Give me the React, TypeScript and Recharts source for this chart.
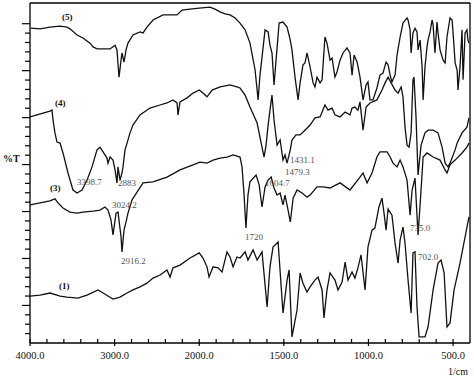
import { LineChart, Line, XAxis, YAxis, ReferenceLine, ReferenceDot } from 'recharts'

// wavenumbers (1/cm) and %T, one pair of arrays per spectrum
const WN5 = [3990, 3880, 3765, 3645, 3563, 3527, 3444, 3374, 3291, 3255, 3208, 3114, 3054, 2995, 2972, 2948, 2924, 2913, 2889, 2865, 2842, 2783, 2700, 2664, 2617, 2546, 2428, 2262, 2203, 2109, 2000,
  1936, 1907, 1877, 1848, 1818, 1788, 1759, 1729, 1700, 1670, 1652, 1641, 1629, 1611, 1593, 1582, 1570, 1558, 1546, 1528, 1505, 1481, 1462, 1452, 1434, 1416, 1404, 1387, 1375, 1363, 1345, 1327, 1316, 1304, 1286, 1274, 1257, 1245, 1227, 1215, 1198, 1186, 1168, 1150, 1127, 1109, 1097, 1085, 1067, 1050, 1032, 1014, 1003, 991, 973, 950, 932, 914, 896, 884, 872, 861, 843, 831, 813, 796, 772, 766, 754, 748, 737, 725, 713, 707, 695, 683, 677, 666, 654, 648, 636, 624, 618, 607, 595, 589, 577, 559, 547, 536, 518, 506, 500, 488, 476, 471, 459, 447, 441, 429, 418, 412, 406]
const T5 = [92.6, 92.4, 92.9, 93.2, 92.9, 92.4, 90.6, 89.7, 88.2, 87.1, 86.5, 86.5, 86.5, 87.6, 86.2, 78.2, 83.2, 85.3, 82.6, 86.2, 88.2, 90.6, 91.5, 91.2, 92.9, 95.0, 96.5, 96.5, 97.9, 98.2, 98.5,
  98.8, 98.2, 97.4, 96.8, 96.5, 95.6, 94.1, 92.1, 88.2, 80.3, 71.5, 78.8, 84.1, 92.1, 91.5, 87.6, 85.3, 75.9, 83.2, 94.1, 94.4, 92.9, 89.1, 86.2, 78.2, 71.5, 76.5, 81.8, 82.4, 85.3, 81.2, 76.5, 75.3, 78.2, 76.5, 77.4, 90.0, 88.2, 83.2, 83.8, 78.2, 79.7, 83.2, 85.3, 86.8, 85.3, 78.8, 84.7, 82.6, 78.2, 71.5, 75.9, 76.8, 71.5, 71.5, 75.0, 78.8, 79.4, 82.6, 81.8, 78.8, 76.8, 78.8, 84.7, 90.0, 94.1, 95.6, 95.0, 92.1, 85.3, 91.2, 92.6, 91.5, 86.2, 89.1, 81.2, 71.5, 81.2, 87.1, 89.1, 91.5, 95.0, 93.5, 85.3, 94.4, 91.2, 86.2, 83.2, 82.4, 90.0, 95.6, 95.0, 91.2, 82.4, 80.3, 74.4, 81.2, 92.1, 77.4, 91.2, 92.1, 89.1, 88.2]

const WN4 = [4000, 3917, 3846, 3764, 3740, 3728, 3705, 3681, 3645, 3610, 3551, 3492, 3444, 3385, 3326, 3267, 3208, 3173, 3137, 3090, 3078, 3054, 3019, 2995, 2972, 2960, 2936, 2913, 2901, 2877, 2853, 2818, 2783, 2700, 2582, 2463, 2381, 2310, 2262, 2251, 2227, 2144, 2073, 2000,
  1978, 1954, 1924, 1877, 1818, 1777, 1759, 1729, 1700, 1658, 1629, 1617, 1605, 1593, 1582, 1570, 1558, 1540, 1522, 1505, 1493, 1481, 1462, 1452, 1428, 1404, 1375, 1345, 1316, 1286, 1257, 1239, 1215, 1198, 1168, 1138, 1109, 1097, 1080, 1062, 1050, 1032, 1014, 991, 950, 920, 902, 884, 866, 843, 825, 807, 796, 784, 772, 760, 748, 737, 731, 719, 707, 689, 666, 648, 618, 589, 565, 547, 530, 518, 488, 476, 447, 418, 406]
const T4 = [66.5, 67.1, 67.6, 68.2, 68.5, 65.6, 61.8, 59.1, 58.8, 55.9, 50.0, 45.0, 44.1, 45.0, 47.9, 51.8, 56.8, 57.6, 56.2, 54.4, 52.9, 54.7, 53.8, 50.9, 47.1, 51.8, 47.9, 50.0, 51.8, 56.8, 58.8, 61.8, 64.1, 67.1, 69.1, 70.0, 70.6, 71.5, 70.6, 67.1, 70.9, 72.1, 73.5, 74.4,
  73.5, 72.4, 74.4, 75.3, 75.9, 75.3, 75.0, 72.9, 69.4, 64.7, 57.6, 54.7, 58.2, 64.1, 68.5, 72.9, 65.6, 58.2, 59.7, 53.8, 55.3, 52.9, 56.8, 59.7, 61.2, 61.2, 62.6, 64.1, 66.2, 66.5, 70.0, 68.5, 69.1, 67.1, 66.5, 67.9, 67.1, 69.1, 69.4, 68.5, 70.9, 62.6, 69.4, 70.6, 71.5, 74.4, 76.5, 78.2, 76.5, 74.4, 73.5, 75.3, 72.4, 63.5, 58.2, 57.6, 61.8, 77.4, 78.2, 66.5, 49.4, 58.2, 61.8, 62.6, 62.6, 61.8, 57.6, 52.9, 51.8, 52.9, 56.8, 58.8, 61.8, 63.5, 66.2]

const WN3 = [4000, 3882, 3764, 3705, 3669, 3610, 3527, 3444, 3374, 3255, 3173, 3114, 3078, 3043, 3019, 2983, 2960, 2924, 2913, 2889, 2865, 2842, 2794, 2735, 2664, 2546, 2381, 2227, 2073, 1995,
  1954, 1918, 1877, 1836, 1800, 1759, 1747, 1735, 1724, 1712, 1700, 1664, 1646, 1629, 1611, 1593, 1575, 1558, 1540, 1522, 1505, 1493, 1475, 1462, 1445, 1422, 1392, 1363, 1345, 1304, 1268, 1227, 1168, 1109, 1050, 1032, 1008, 979, 950, 932, 890, 872, 855, 831, 813, 796, 772, 754, 742, 725, 707, 695, 677, 654, 618, 577, 547, 536, 518, 488, 447, 418, 406]
const T3 = [40.6, 41.2, 41.8, 42.4, 41.2, 39.7, 38.5, 38.2, 38.5, 38.8, 39.1, 40.0, 39.1, 36.2, 31.8, 38.2, 38.5, 31.2, 26.8, 33.2, 35.6, 38.2, 42.1, 44.4, 47.1, 47.4, 48.8, 50.9, 52.4, 53.2,
  52.9, 53.8, 54.4, 54.7, 55.3, 54.7, 51.8, 43.5, 33.8, 43.5, 47.4, 49.4, 46.5, 40.0, 45.9, 47.9, 48.8, 45.6, 43.5, 44.1, 40.6, 43.5, 39.1, 35.6, 42.6, 45.0, 44.1, 42.9, 43.5, 45.9, 45.9, 45.6, 47.1, 45.0, 48.8, 50.0, 47.1, 50.0, 54.7, 56.2, 56.2, 54.7, 52.9, 51.8, 53.8, 51.8, 47.9, 37.6, 45.0, 48.5, 31.8, 40.6, 54.7, 55.9, 54.7, 53.8, 50.9, 50.0, 52.4, 53.8, 55.9, 57.6, 58.8]

const WN1 = [4000, 3882, 3764, 3681, 3645, 3563, 3433, 3326, 3196, 3137, 3019, 2936, 2853, 2783, 2700, 2617, 2546, 2463, 2381, 2345, 2310, 2227, 2109, 2000,
  1978, 1954, 1942, 1918, 1889, 1865, 1836, 1818, 1800, 1777, 1759, 1729, 1712, 1682, 1658, 1629, 1599, 1582, 1564, 1534, 1505, 1481, 1469, 1452, 1422, 1404, 1387, 1363, 1345, 1316, 1298, 1274, 1263, 1245, 1227, 1198, 1180, 1156, 1138, 1121, 1097, 1080, 1062, 1044, 1020, 1003, 979, 962, 938, 920, 908, 896, 884, 861, 843, 825, 813, 796, 784, 766, 748, 737, 725, 713, 701, 666, 648, 618, 589, 571, 553, 536, 518, 494, 459, 429, 406]
const T1 = [13.8, 14.1, 14.7, 14.1, 13.8, 13.5, 13.2, 14.1, 15.6, 14.7, 12.9, 13.5, 14.7, 15.6, 16.5, 17.6, 19.1, 20.0, 21.5, 19.4, 22.1, 22.9, 25.0, 26.5,
  25.0, 22.4, 19.4, 22.4, 22.1, 20.9, 26.8, 25.3, 22.4, 25.3, 25.0, 26.8, 24.4, 27.4, 24.4, 26.8, 10.6, 22.4, 28.2, 29.7, 8.8, 18.5, 21.5, 1.8, 9.7, 20.6, 17.6, 15.0, 16.5, 18.5, 19.4, 15.6, 7.4, 15.6, 20.6, 18.5, 15.6, 17.9, 23.8, 18.5, 20.9, 19.1, 22.1, 25.9, 15.6, 28.2, 33.2, 33.8, 40.0, 42.6, 38.2, 33.2, 39.4, 37.6, 29.4, 23.5, 30.3, 34.1, 29.4, 18.5, 8.8, 26.5, 26.8, 10.6, 1.8, 1.8, 4.7, 15.6, 23.5, 24.4, 20.6, 4.7, 5.9, 15.6, 23.5, 31.2, 37.1]

// peak annotations: text, wavenumber, %T where the text starts
const PEAK_TEXT = ['3398.7', '2883', '3024.2', '2916.2', '1720', '1604.7', '1479.3', '1431.1', '735.0', '702.0']
const PEAK_WN = [3444, 2960, 3031, 2924, 1729, 1611, 1493, 1463, 754, 707]
const PEAK_T = [47.4, 47.1, 40.6, 24.1, 31.2, 47.1, 50.3, 54.0, 33.8, 25.3]

const CURVE_TEXT = ['(5)', '(4)', '(3)', '(1)']
const CURVE_WN = [3622, 3705, 3764, 3657]
const CURVE_T = [95.9, 70.6, 45.6, 16.8]

const X_LABEL_WN = [4000, 3000, 2000, 1500, 1000, 500]
const X_LABELS = ['4000.0', '3000.0', '2000.0', '1500.0', '1000.0', '500.0']

const FONT = '"Liberation Serif", "Times New Roman", serif'

// the x axis changes scale at 2000 1/cm (1000 per division above, 500 below)
function toU(wn: number): number {
  return wn >= 2000 ? (4000 - wn) / 1000 : 2 + (2000 - wn) / 500
}

function series(wn: number[], t: number[]) {
  return wn.map((w, i) => ({ u: toU(w), t: t[i] }))
}

const spectra = [series(WN5, T5), series(WN4, T4), series(WN3, T3), series(WN1, T1)]

// minor ticks: every 200 above 2000, every 100 below
const xTicks: number[] = []
for (let w = 4000; w >= 2000; w -= 200) xTicks.push(toU(w))
for (let w = 1900; w >= 500; w -= 100) xTicks.push(toU(w))
const majorU = X_LABEL_WN.map(toU)

const Y_STEP = 2.762
const yTicks = Array.from({ length: 34 }, (_, i) => (i + 1) * Y_STEP)

function XTick(props: any) {
  const { x, y, payload } = props
  const idx = majorU.findIndex(m => Math.abs(m - payload.value) < 1e-6)
  return (
    <g>
      <line x1={x} x2={x} y1={y} y2={y - 4} stroke="#000" strokeWidth={1.2} />
      {idx >= 0 && (
        <>
          <line x1={x} x2={x} y1={y} y2={y + 3} stroke="#000" strokeWidth={1.2} />
          <text x={x} y={y + 16} textAnchor="middle" fontSize={10.5} fontFamily={FONT} fill="#111">
            {X_LABELS[idx]}
          </text>
        </>
      )}
    </g>
  )
}

function YTick(props: any) {
  const { x, y, payload } = props
  const k = Math.round(payload.value / Y_STEP)
  const len = k % 5 === 4 ? 8 : 5
  return <line x1={x - len} x2={x} y1={y} y2={y} stroke="#000" strokeWidth={1.2} />
}

export default function App() {
  return (
    <div style={{ position: 'absolute', left: 0, top: 0, width: 474, height: 377, background: '#fff' }}>
      <LineChart width={474} height={377} margin={{ top: 3, right: 4, bottom: 0, left: 0 }}>
        <XAxis
          dataKey="u"
          type="number"
          domain={[0, 5.2]}
          ticks={xTicks}
          tick={XTick}
          tickSize={0}
          tickMargin={0}
          tickLine={false}
          axisLine={{ stroke: '#000', strokeWidth: 1.3 }}
          height={34}
          allowDataOverflow
          interval={0}
          label={{ value: '1/cm', position: 'insideBottomRight', offset: 2, fontSize: 10, fontFamily: FONT, fill: '#111' }}
        />
        <YAxis
          dataKey="t"
          type="number"
          domain={[0, 100]}
          ticks={yTicks}
          tick={YTick}
          tickSize={0}
          tickMargin={0}
          tickLine={false}
          axisLine={{ stroke: '#000', strokeWidth: 1.3 }}
          width={30}
          interval={0}
          allowDataOverflow
          label={{ value: '%T', position: 'insideLeft', offset: 3, dy: -15, fontSize: 10, fontWeight: 'bold', fontFamily: FONT, fill: '#111' }}
        />
        <ReferenceLine y={100} stroke="#000" strokeWidth={1.3} />
        <ReferenceLine x={5.2} stroke="#000" strokeWidth={1.3} />

        {spectra.map((d, i) => (
          <Line
            key={i}
            data={d}
            dataKey="t"
            type="linear"
            stroke="#111"
            strokeWidth={1.3}
            dot={false}
            isAnimationActive={false}
          />
        ))}

        {PEAK_TEXT.map((txt, i) => (
          <ReferenceDot
            key={txt}
            x={toU(PEAK_WN[i])}
            y={PEAK_T[i]}
            r={0}
            fill="none"
            stroke="none"
            label={{ value: txt, position: 'right', offset: 0, fontSize: 9, fontFamily: FONT, fill: '#555' }}
          />
        ))}
        {CURVE_TEXT.map((txt, i) => (
          <ReferenceDot
            key={txt}
            x={toU(CURVE_WN[i])}
            y={CURVE_T[i]}
            r={0}
            fill="none"
            stroke="none"
            label={{ value: txt, position: 'right', offset: 0, fontSize: 9, fontWeight: 'bold', fontFamily: FONT, fill: '#111' }}
          />
        ))}
      </LineChart>
    </div>
  )
}
